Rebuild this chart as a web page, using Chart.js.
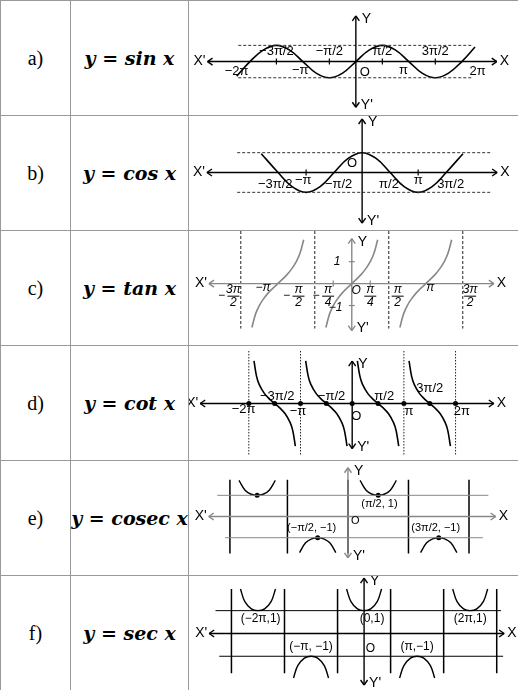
<!DOCTYPE html>
<html>
<head>
<meta charset="utf-8">
<script src="https://cdn.jsdelivr.net/npm/chart.js@4/dist/chart.umd.min.js"></script>
<style>
  body { margin: 0; background: #fff; }
  table { border-collapse: collapse; width: 518px; height: 690px; table-layout: fixed; }
  td { border: 1px solid #999; padding: 0; height: 114px; text-align: center; vertical-align: middle; }
  td.lab { width: 69px; font: 20px "Liberation Serif", serif; }
  td.fn { width: 117px; font: bold italic 19px "DejaVu Serif", serif; white-space: nowrap; }
  td.gr { width: 330px; }
  canvas { display: block; }
</style>
</head>
<body>
<table id="tbl"></table>
<script>
// x values are in units of pi
const rowLetters = ['a)', 'b)', 'c)', 'd)', 'e)', 'f)'];
const rowFormulas = ['y = sin x', 'y = cos x', 'y = tan x', 'y = cot x', 'y = cosec x', 'y = sec x'];

// sin
const sinX = [-2.25, -2, -1.75, -1.5, -1.25, -1, -0.75, -0.5, -0.25, 0, 0.25, 0.5, 0.75, 1, 1.25, 1.5, 1.75, 2, 2.25];
const sinY = [-0.9, 0, 0.71, 1, 0.71, 0, -0.71, -1, -0.71, 0, 0.71, 1, 0.71, 0, -0.71, -1, -0.71, 0, 0.9];
// cos
const cosX = [-1.8, -1.5, -1.25, -1, -0.75, -0.5, -0.25, 0, 0.25, 0.5, 0.75, 1, 1.25, 1.5, 1.8];
const cosY = [0.95, 0, -0.71, -1, -0.71, 0, 0.71, 1, 0.71, 0, -0.71, -1, -0.71, 0, 0.95];
// tan: one branch around each centre
const tanCentres = [-1, 0, 1];
const tanOffset = [-0.35, -0.3, -0.25, -0.2, -0.125, 0, 0.125, 0.2, 0.25, 0.3, 0.35];
const tanY = [-2, -1.38, -1, -0.73, -0.41, 0, 0.41, 0.73, 1, 1.38, 2];
// cot: one branch starting at each asymptote
const cotStarts = [-2, -1, 0, 1];
const cotOffset = [0.1, 0.15, 0.2, 0.3, 0.4, 0.5, 0.6, 0.7, 0.8, 0.85, 0.9];
const cotY = [3.08, 1.96, 1.38, 0.73, 0.32, 0, -0.32, -0.73, -1.38, -1.96, -3.08];
// cosec
const cosecStarts = [-2, -1, 0, 1];
const cosecSigns = [1, -1, 1, -1];
const cosecOffset = [0.2, 0.3, 0.4, 0.5, 0.6, 0.7, 0.8];
const cosecY = [1.7, 1.24, 1.05, 1, 1.05, 1.24, 1.7];
// sec
const secCentres = [-2, -1, 0, 1, 2];
const secSigns = [1, -1, 1, -1, 1];
const secOffset = [-0.33, -0.25, -0.125, 0, 0.125, 0.25, 0.33];
const secY = [1.95, 1.41, 1.08, 1, 1.08, 1.41, 1.95];

const pts = (xs, ys, dx = 0, s = 1) => xs.map((x, i) => ({ x: x + dx, y: ys[i] * s }));
const seg = (x0, y0, x1, y1) => [{ x: x0, y: y0 }, { x: x1, y: y1 }];

function curve(data, color = '#000', width = 1.6) {
  return { data, showLine: true, borderColor: color, borderWidth: width, pointRadius: 0, tension: 0.4, fill: false };
}
function rule(data, color = '#000', dash = [], width = 1) {
  return { data, showLine: true, borderColor: color, borderWidth: width, borderDash: dash, pointRadius: 0, tension: 0 };
}
function dots(data) {
  return { data, showLine: false, pointRadius: 2.5, backgroundColor: '#000', borderWidth: 0 };
}

const rows = [
  { // sin
    xr: [-3.15, 3.08], yr: [-3.3, 3.74], axisColor: '#000',
    ax: [-2.8, 2.66, 2.82, -2.82],
    sets: [
      rule(seg(-2.22, 1, 2.19, 1), '#333', [3, 2]), rule(seg(-2.22, -1, 2.19, -1), '#333', [3, 2]),
      curve(pts(sinX, sinY))
    ],
    ticks: [-1.5, -0.5, 0.5, 1.5],
    labels: [[-1.5, 0.65, '−3π/2'], [-0.5, 0.65, '−π/2'], [0.5, 0.65, 'π/2'], [1.5, 0.65, '3π/2'],
             [-2.25, -0.6, '−2π'], [-1.05, -0.55, '−π'], [0.17, -0.65, 'O'], [0.9, -0.55, 'π'], [2.3, -0.6, '2π']]
  },
  { // cos
    xr: [-3.09, 2.8], yr: [-2.9, 2.85], axisColor: '#000',
    ax: [-2.77, 2.41, 2.7, -2.55],
    sets: [
      rule(seg(-2.23, 1, 2.32, 1), '#333', [3, 2]), rule(seg(-2.23, -1, 2.32, -1), '#333', [3, 2]),
      curve(pts(cosX, cosY))
    ],
    ticks: [-1, 1],
    labels: [[-0.18, 0.45, 'O'], [-1.55, -0.6, '−3π/2'], [-1.05, -0.4, '−π'], [-0.42, -0.6, '−π/2'],
             [0.48, -0.6, 'π/2'], [1, -0.4, 'π'], [1.58, -0.6, '3π/2']]
  },
  { // tan
    xr: [-2.2, 2.26], yr: [-2.8, 2.4], axisColor: '#888', font: 'italic 12px "Liberation Sans"',
    ax: [-1.93, 1.92, 2.05, -2.14],
    sets: [
      ...[-1.5, -0.5, 0.5, 1.5].map(v => rule(seg(v, 2.4, v, -2.05), '#222', [3, 2])),
      ...tanCentres.map(c => curve(pts(tanOffset, tanY, c), '#888', 1.6))
    ],
    ticks: [-0.25, 0.25], yticks: [1, -1],
    labels: [[-1.2, -0.2, '−π'], [0.06, -0.3, 'O'], [1.06, -0.2, 'π'], [-0.2, 1, '1'], [-0.22, -1.1, '−1']],
    fracs: [[-1.6, -0.55, '−', '3π', '2'], [-0.72, -0.55, '−', 'π', '2'], [-0.32, -0.55, '−', 'π', '4'],
            [0.25, -0.55, '', 'π', '4'], [0.62, -0.55, '', 'π', '2'], [1.6, -0.55, '', '3π', '2']]
  },
  { // cot
    xr: [-3.08, 3.15], yr: [-3.8, 3.87], axisColor: '#000',
    ax: [-2.94, 2.74, 3.07, -3.27],
    sets: [
      ...[-2, -1, 1, 2].map(v => rule(seg(v, 3.8, v, -3.7), '#222', [1.5, 1.5])),
      ...cotStarts.map(s => curve(pts(cotOffset, cotY, s), '#000', 1.6)),
      dots([-2, -1.5, -1, -0.5, 0, 0.5, 1, 1.5, 2].map(x => ({ x, y: 0 })))
    ],
    ticks: [],
    labels: [[-1.45, 0.5, '−3π/2'], [-0.4, 0.5, '−π/2'], [0.62, 0.5, 'π/2'], [1.5, 1.1, '3π/2'],
             [-2.1, -0.45, '−2π'], [-1.05, -0.6, '−π'], [0.08, -0.95, 'O'], [1.1, -0.6, 'π'], [2.12, -0.6, '2π']]
  },
  { // cosec
    xr: [-2.56, 2.76], yr: [-2.57, 2.43], axisColor: '#888', font: '11px "Liberation Sans"',
    ax: [-2.3, 2.44, 2.3, -1.95],
    sets: [
      rule(seg(-2.16, 1, 2.32, 1), '#888'), rule(seg(-2.03, -1, 2.23, -1), '#888'),
      ...[-1.95, -1, 0, 1, 2].map(v => rule(seg(v, 1.74, v, -1.74), '#000', [], 1.5)),
      ...cosecStarts.map((s, i) => curve(pts(cosecOffset, cosecY, s, cosecSigns[i]), '#000', 1.4)),
      dots([{ x: -1.5, y: 1 }, { x: 0.5, y: 1 }, { x: -0.5, y: -1 }, { x: 1.5, y: -1 }])
    ],
    ticks: [],
    labels: [[0.52, 0.6, '(π/2, 1)'], [-0.6, -0.55, '(−π/2, −1)'], [1.45, -0.55, '(3π/2, −1)'], [0.12, -0.22, 'O']]
  },
  { // sec
    xr: [-3.3, 2.92], yr: [-2.48, 2.52], axisColor: '#000', font: '12px "Liberation Sans"',
    ax: [-2.92, 2.64, 2.43, -2.26],
    sets: [
      rule(seg(-2.8, 1, 2.58, 1), '#000'), rule(seg(-2.73, -1, 2.62, -1), '#000'),
      ...[-2.5, -1.5, -0.5, 0.5, 1.5, 2.5].map(v => rule(seg(v, 1.95, v, -1.74), '#000', [], 1.5)),
      ...secCentres.map((c, i) => curve(pts(secOffset, secY, c, secSigns[i]), '#000', 1.4))
    ],
    ticks: [],
    labels: [[-1.95, 0.65, '(−2π,1)'], [0.15, 0.65, '(0,1)'], [2.0, 0.65, '(2π,1)'],
             [-1.0, -0.6, '(−π, −1)'], [1.0, -0.6, '(π,−1)'], [0.12, -0.65, 'O']]
  }
];

const tbl = document.getElementById('tbl');
rows.forEach((r, i) => {
  const tr = document.createElement('tr');
  tr.innerHTML = `<td class="lab">${rowLetters[i]}</td><td class="fn">${rowFormulas[i]}</td><td class="gr"><canvas width="330" height="114"></canvas></td>`;
  tbl.appendChild(tr);
});

const deco = {
  id: 'deco',
  afterDatasetsDraw(chart) {
    const r = chart.options.plugins.deco;
    const ctx = chart.ctx, X = v => chart.scales.x.getPixelForValue(v), Y = v => chart.scales.y.getPixelForValue(v);
    ctx.save();
    ctx.strokeStyle = r.axisColor; ctx.fillStyle = '#000'; ctx.lineWidth = 1.4;
    const [xa, xb, ya, yb] = r.ax, y0 = Y(0), x0 = X(0);
    const line = (a, b, c, d) => { ctx.beginPath(); ctx.moveTo(a, b); ctx.lineTo(c, d); ctx.stroke(); };
    line(X(xa), y0, X(xb), y0); line(x0, Y(ya), x0, Y(yb));
    const h = 5;
    line(X(xa) + h, y0 - h * 0.7, X(xa), y0); line(X(xa), y0, X(xa) + h, y0 + h * 0.7);
    line(X(xb) - h, y0 - h * 0.7, X(xb), y0); line(X(xb), y0, X(xb) - h, y0 + h * 0.7);
    line(x0 - h * 0.7, Y(ya) + h, x0, Y(ya)); line(x0, Y(ya), x0 + h * 0.7, Y(ya) + h);
    line(x0 - h * 0.7, Y(yb) - h, x0, Y(yb)); line(x0, Y(yb), x0 + h * 0.7, Y(yb) - h);
    ctx.lineWidth = 1.2;
    (r.ticks || []).forEach(t => line(X(t), y0 - 3, X(t), y0 + 3));
    (r.yticks || []).forEach(t => line(x0 - 3, Y(t), x0 + 3, Y(t)));
    ctx.font = '14px "Liberation Sans"'; ctx.textBaseline = 'middle';
    ctx.textAlign = 'right'; ctx.fillText("X'", X(xa) - 2, y0);
    ctx.textAlign = 'left'; ctx.fillText('X', X(xb) + 3, y0);
    ctx.fillText('Y', x0 + 6, Y(ya) + 3); ctx.fillText("Y'", x0 + 5, Y(yb) - 2);
    ctx.font = r.font || '13px "Liberation Sans"'; ctx.textAlign = 'center';
    r.labels.forEach(([x, y, s]) => ctx.fillText(s, X(x), Y(y)));
    (r.fracs || []).forEach(([x, y, sign, num, den]) => {
      const cx = X(x), cy = Y(y);
      ctx.fillText(num, cx, cy - 6); ctx.fillText(den, cx, cy + 7);
      ctx.strokeStyle = '#000'; ctx.lineWidth = 1;
      line(cx - 6, cy + 0.5, cx + 6, cy + 0.5);
      if (sign) ctx.fillText(sign, cx - 12, cy);
    });
    ctx.restore();
  }
};

document.querySelectorAll('canvas').forEach((cv, i) => {
  const r = rows[i];
  new Chart(cv, {
    type: 'scatter',
    data: { datasets: r.sets },
    options: {
      responsive: false, animation: false,
      layout: { padding: 0 },
      scales: {
        x: { type: 'linear', min: r.xr[0], max: r.xr[1], display: false },
        y: { type: 'linear', min: r.yr[0], max: r.yr[1], display: false }
      },
      plugins: { legend: { display: false }, tooltip: { enabled: false }, deco: r }
    },
    plugins: [deco]
  });
});
</script>
</body>
</html>
